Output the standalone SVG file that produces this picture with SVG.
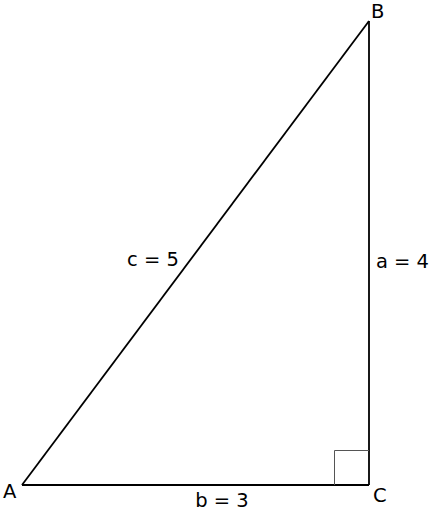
<svg xmlns="http://www.w3.org/2000/svg" width="430" height="512" viewBox="0 0 430 512">
<style>
text{font-family:"DejaVu Sans",sans-serif;font-size:19.5px;fill:#000}
.edge{stroke:#000;stroke-width:1.8;fill:none}
.ra{stroke:#555;stroke-width:1;fill:none}
</style>
<rect width="430" height="512" fill="#fff"/>
<g id="connectors">
<line class="edge" x1="22" y1="485" x2="369" y2="21"/>
<line class="edge" x1="369" y1="21" x2="369" y2="485"/>
<line class="edge" x1="22" y1="485" x2="369" y2="485"/>
<polyline class="ra" points="334.5,485 334.5,450.5 369,450.5"/>
</g>
<g id="A"><text x="3" y="498">A</text></g>
<g id="B"><text x="371" y="18">B</text></g>
<g id="C"><text x="373" y="502">C</text></g>
<text x="222" y="507" text-anchor="middle">b = 3</text>
<text x="127" y="266">c = 5</text>
<text x="429" y="268" text-anchor="end">a = 4</text>
</svg>
